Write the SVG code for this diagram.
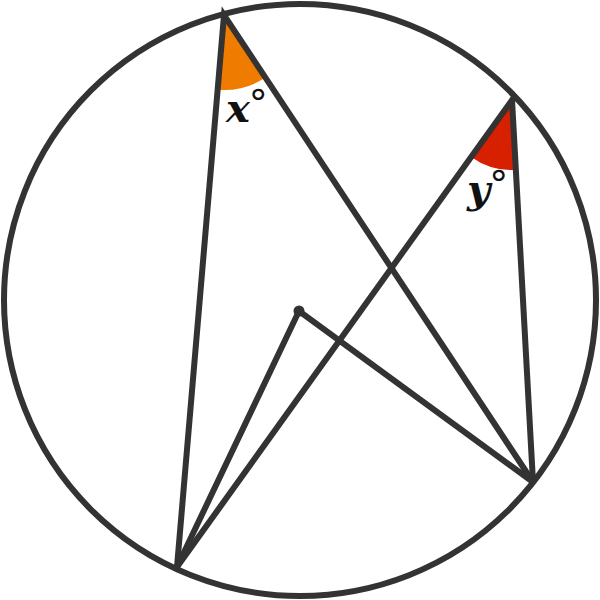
<svg xmlns="http://www.w3.org/2000/svg" width="600" height="600" viewBox="0 0 600 600">
<style>
.ln{fill:none;stroke:#333;stroke-width:6;stroke-linejoin:miter;stroke-miterlimit:20}
.lbl{font-family:"DejaVu Serif","Liberation Serif",serif;font-style:italic;font-weight:bold;font-size:40px;fill:#111}
.deg{font-family:"DejaVu Sans","Liberation Sans",sans-serif;font-style:normal;font-weight:normal;font-size:38px}
</style>
<rect width="600" height="600" fill="#fff"/>
<g id="angles">
<path id="angle-x" d="M224,15 L217.6,89.7 A75,75 0 0 0 265.4,77.6 Z" fill="#ef7b00"/>
<path id="angle-y" d="M512,100 L471.2,156.9 A70,70 0 0 0 515.8,169.9 Z" fill="#d72000"/>
</g>
<circle id="circle" cx="300" cy="300" r="296" class="ln"/>
<g id="connectors">
<polyline class="ln" points="177,567 224,15 533,482"/>
<polyline class="ln" points="177,567 512,100 533,482"/>
<polyline class="ln" points="177,567 299,311 533,482"/>
</g>
<g id="center">
<circle cx="299" cy="311" r="5.5" fill="#333"/>
</g>
<g id="labels">
<text class="lbl" x="226" y="122">x<tspan class="deg" dx="-1" dy="-6">°</tspan></text>
<text class="lbl" x="467" y="203">y<tspan class="deg" dx="-1" dy="-6">°</tspan></text>
</g>
</svg>
